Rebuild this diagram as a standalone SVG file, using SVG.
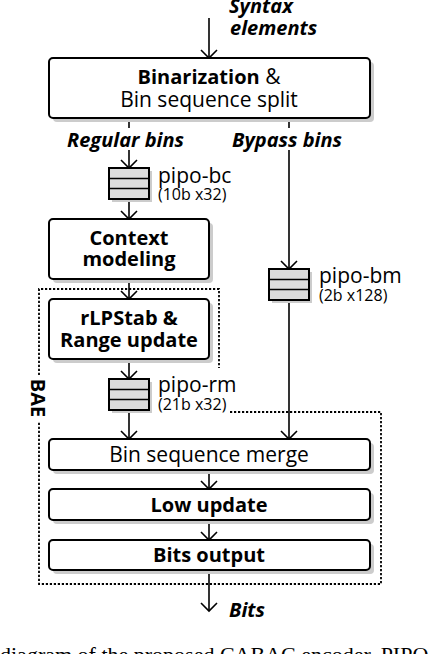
<svg xmlns="http://www.w3.org/2000/svg" width="432" height="654" viewBox="0 0 432 654">
<style>
text{font-family:"Open Sans","Liberation Sans",sans-serif;fill:#000}
.r{font-size:21px}
.b{font-size:20px;font-weight:bold}
.bi{font-size:20px;font-weight:bold;font-style:italic}
.s{font-size:16px}
.box{fill:#fff;stroke:#000;stroke-width:2}
.sh{fill:#cccccc}
.pipo{fill:#dcdcdc;stroke:#000;stroke-width:2}
.ln{stroke:#000;stroke-width:1.6;fill:none}
.arr{stroke:#000;stroke-width:1.6;fill:none;marker-end:url(#ah)}
.dot{stroke:#000;stroke-width:1.8;fill:none;stroke-dasharray:2.2 1.8}
.cap{font-family:"Liberation Serif",serif;font-size:22px}
</style>
<defs>
<marker id="ah" markerUnits="userSpaceOnUse" markerWidth="20" markerHeight="20" refX="10" refY="10" orient="auto" overflow="visible">
<path d="M2,2 L10,10 L2,18" fill="none" stroke="#000" stroke-width="1.6"/>
</marker>
</defs>

<g id="bae-region">
<path class="dot" d="M39,375 V289 H219 V368"/>
<path class="dot" d="M230,412 H381 V584 H39 V421"/>
<text class="b" transform="translate(31,398) rotate(90)" text-anchor="middle">BAE</text>
</g>

<g id="connectors">
<line class="arr" x1="209" y1="18" x2="209" y2="58"/>
<line class="ln" x1="129" y1="118" x2="129" y2="128"/>
<line class="arr" x1="129" y1="150" x2="129" y2="168"/>
<line class="ln" x1="289" y1="118" x2="289" y2="128"/>
<line class="arr" x1="289" y1="150" x2="289" y2="269"/>
<line class="arr" x1="129" y1="199" x2="129" y2="219"/>
<line class="arr" x1="129" y1="279" x2="129" y2="299"/>
<line class="arr" x1="129" y1="359" x2="129" y2="379"/>
<line class="arr" x1="129" y1="410" x2="129" y2="439"/>
<line class="arr" x1="289" y1="299" x2="289" y2="439"/>
<line class="arr" x1="209" y1="470" x2="209" y2="489"/>
<line class="arr" x1="209" y1="520" x2="209" y2="540"/>
<line class="arr" x1="209" y1="570" x2="209" y2="611"/>
</g>

<g id="labels">
<text class="bi" x="229" y="13">Syntax</text>
<text class="bi" x="230" y="35">elements</text>
<text class="bi" x="67" y="147">Regular bins</text>
<text class="bi" x="232" y="147">Bypass bins</text>
<text class="bi" x="229" y="617">Bits</text>
</g>

<g id="binarization">
<rect class="sh" x="53" y="62" width="321" height="60" rx="4"/>
<rect class="box" x="49" y="58" width="321" height="60" rx="4"/>
<text x="209" y="84" text-anchor="middle"><tspan class="b">Binarization</tspan><tspan class="r"> &amp;</tspan></text>
<text class="r" x="209" y="107" text-anchor="middle">Bin sequence split</text>
</g>

<g id="pipo-bc">
<rect class="sh" x="112" y="171" width="40" height="31"/>
<rect class="pipo" x="109" y="168" width="40" height="31"/>
<line class="ln" x1="109" y1="178.5" x2="149" y2="178.5" stroke-width="2"/>
<line class="ln" x1="109" y1="188.5" x2="149" y2="188.5" stroke-width="2"/>
<text class="r" x="158" y="183">pipo-bc</text>
<text class="s" x="158" y="200">(10b x32)</text>
</g>

<g id="context-modeling">
<rect class="sh" x="53" y="223" width="160" height="60" rx="4"/>
<rect class="box" x="49" y="219" width="160" height="60" rx="4"/>
<text class="b" x="129" y="245" text-anchor="middle">Context</text>
<text class="b" x="129" y="266" text-anchor="middle">modeling</text>
</g>

<g id="rlpstab">
<rect class="sh" x="53" y="303" width="160" height="60" rx="4"/>
<rect class="box" x="49" y="299" width="160" height="60" rx="4"/>
<text class="b" x="129" y="325" text-anchor="middle">rLPStab &amp;</text>
<text class="b" x="129" y="347" text-anchor="middle">Range update</text>
</g>

<g id="pipo-rm">
<rect class="sh" x="112" y="382" width="40" height="31"/>
<rect class="pipo" x="109" y="379" width="40" height="31"/>
<line class="ln" x1="109" y1="389.5" x2="149" y2="389.5" stroke-width="2"/>
<line class="ln" x1="109" y1="399.5" x2="149" y2="399.5" stroke-width="2"/>
<text class="r" x="158" y="392">pipo-rm</text>
<text class="s" x="158" y="410">(21b x32)</text>
</g>

<g id="pipo-bm">
<rect class="sh" x="272" y="272" width="40" height="31"/>
<rect class="pipo" x="269" y="269" width="40" height="31"/>
<line class="ln" x1="269" y1="279.5" x2="309" y2="279.5" stroke-width="2"/>
<line class="ln" x1="269" y1="289.5" x2="309" y2="289.5" stroke-width="2"/>
<text class="r" x="319" y="283">pipo-bm</text>
<text class="s" x="319" y="301">(2b x128)</text>
</g>

<g id="bin-merge">
<rect class="sh" x="53" y="443" width="321" height="31" rx="4"/>
<rect class="box" x="49" y="439" width="321" height="31" rx="4"/>
<text class="r" x="209" y="462" text-anchor="middle">Bin sequence merge</text>
</g>

<g id="low-update">
<rect class="sh" x="53" y="493" width="321" height="31" rx="4"/>
<rect class="box" x="49" y="489" width="321" height="31" rx="4"/>
<text class="b" x="209" y="512" text-anchor="middle">Low update</text>
</g>

<g id="bits-output">
<rect class="sh" x="53" y="544" width="321" height="30" rx="4"/>
<rect class="box" x="49" y="540" width="321" height="30" rx="4"/>
<text class="b" x="209" y="562" text-anchor="middle">Bits output</text>
</g>

<text class="cap" x="0" y="661.5">diagram of the proposed CABAC encoder. PIPO</text>
</svg>
